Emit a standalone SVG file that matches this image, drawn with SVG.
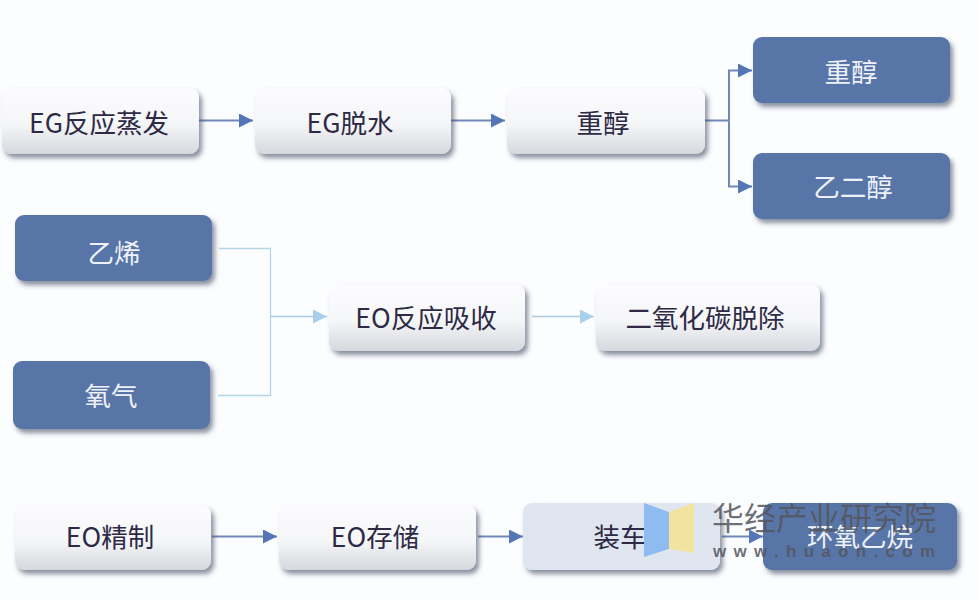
<svg xmlns="http://www.w3.org/2000/svg" width="978" height="600" viewBox="0 0 978 600">
<style>
.t{font-family:"Noto Sans CJK SC","Liberation Sans",sans-serif;font-size:26.500px;text-anchor:middle}
.w{fill:url(#g);filter:url(#s)}
.b{fill:#5875a8;filter:url(#s)}
.d{fill:#2e2a45}
.l{fill:#eef2f8}
.c1{fill:none;stroke:#6f88b6;stroke-width:2}
.c2{fill:none;stroke:#b5d5e8;stroke-width:1.3}
.c3{fill:none;stroke:#a9cbe3;stroke-width:1.3}
</style>
<defs>
<linearGradient id="g" x1="0" y1="0" x2="0" y2="1"><stop offset="0" stop-color="#fcfcfe"/><stop offset="0.55" stop-color="#f5f6f8"/><stop offset="1" stop-color="#d5d8de"/></linearGradient>
<filter id="s" x="-10%" y="-20%" width="125%" height="150%"><feDropShadow dx="3" dy="4" stdDeviation="2.500" flood-color="#3c4660" flood-opacity="0.6"/></filter>
<marker id="a" markerUnits="userSpaceOnUse" markerWidth="15" markerHeight="14" refX="14" refY="7" orient="auto"><path d="M0 0L14 7L0 14Z" fill="#5476b4"/></marker>
<marker id="a2" markerUnits="userSpaceOnUse" markerWidth="15" markerHeight="14" refX="14" refY="7" orient="auto"><path d="M0 0L14 7L0 14Z" fill="#a9d0ea"/></marker>
</defs>
<rect width="978" height="600" fill="#fcfdfe"/>
<g id="connectors">
<path class="c1" d="M199 120.500H253" marker-end="url(#a)"/>
<path class="c1" d="M451 120.500H505" marker-end="url(#a)"/>
<path class="c1" d="M705 120.500H729M729 120.500V70.500H752" marker-end="url(#a)"/>
<path class="c1" d="M729 120.500V186.500H752" marker-end="url(#a)"/>
<path class="c2" d="M219 248.500H270.500V395.500H218"/>
<path class="c3" d="M270.500 316.500H327" marker-end="url(#a2)"/>
<path class="c3" d="M532 316.500H594" marker-end="url(#a2)"/>
<path class="c1" d="M212 536.500H277" marker-end="url(#a)"/>
<path class="c1" d="M478 536.500H523" marker-end="url(#a)"/>
<path class="c1" d="M722 536.500H763" marker-end="url(#a)"/>
</g>
<g id="n1"><rect class="w" x="2" y="88" width="197" height="66" rx="9"/><text class="t d" x="99" y="133">EG反应蒸发</text></g>
<g id="n2"><rect class="w" x="255" y="88" width="196" height="66" rx="9"/><text class="t d" x="350" y="133">EG脱水</text></g>
<g id="n3"><rect class="w" x="507" y="88" width="198" height="66" rx="9"/><text class="t d" x="603" y="133">重醇</text></g>
<g id="n4"><rect class="b" x="753" y="37" width="197" height="66" rx="9"/><text class="t l" x="851" y="82">重醇</text></g>
<g id="n5"><rect class="b" x="753" y="153" width="197" height="66" rx="9"/><text class="t l" x="853" y="197">乙二醇</text></g>
<g id="n6"><rect class="b" x="15" y="215" width="197" height="66" rx="9"/><text class="t l" x="114" y="263">乙烯</text></g>
<g id="n7"><rect class="b" x="13" y="361" width="197" height="68" rx="9"/><text class="t l" x="111" y="406">氧气</text></g>
<g id="n8"><rect class="w" x="329" y="284" width="196" height="67" rx="9"/><text class="t d" x="426" y="328">EO反应吸收</text></g>
<g id="n9"><rect class="w" x="596" y="284" width="224" height="67" rx="9"/><text class="t d" x="705" y="328">二氧化碳脱除</text></g>
<g id="n10"><rect class="w" x="15" y="505" width="196" height="65" rx="9"/><text class="t d" x="110" y="547">EO精制</text></g>
<g id="n11"><rect class="w" x="279" y="505" width="197" height="65" rx="9"/><text class="t d" x="375" y="547">EO存储</text></g>
<g id="n12"><rect x="523" y="503" width="197" height="67" rx="9" fill="#e0e6f0" filter="url(#s)"/><text class="t d" x="620" y="547">装车</text></g>
<g id="n13"><rect class="b" x="763" y="503" width="194" height="67" rx="9"/><text class="t l" x="860" y="547">环氧乙烷</text></g>
<g id="watermark">
<path d="M644 503L669 512V549L644 557Z" fill="#8fbcf0"/>
<path d="M669 512L694 503V553L669 549Z" fill="#f3e3a0"/>
<text x="712" y="530" font-family="'Noto Sans CJK SC',sans-serif" font-size="32" fill="#55555e" fill-opacity="0.85" textLength="224">华经产业研究院</text>
<text x="713" y="557" font-family="'Liberation Sans',sans-serif" font-size="17" font-weight="bold" fill="#55555e" fill-opacity="0.85" textLength="222">www.huaon.com</text>
</g>
</svg>
